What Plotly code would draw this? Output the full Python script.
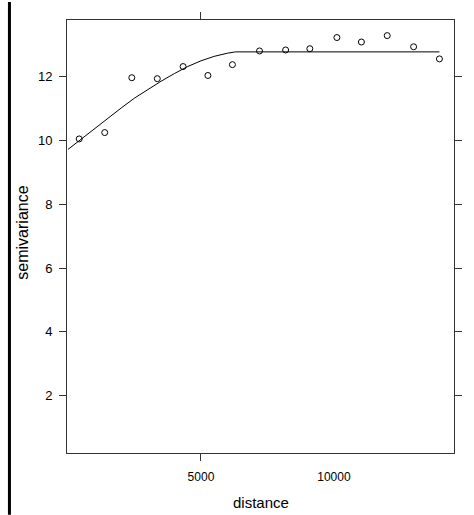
import plotly.graph_objects as go

# empirical semivariogram points
distance = [422, 1381, 2400, 3358, 4328, 5261, 6183, 7201, 8183, 9093,
            10111, 11033, 12003, 12995, 13966]
semivariance = [10.05, 10.25, 11.97, 11.94, 12.32, 12.04, 12.38, 12.81, 12.84,
                12.88, 13.23, 13.09, 13.29, 12.94, 12.56]

# fitted model line
model_dist = [0, 500, 1000, 1500, 2000, 2500, 3000, 3500, 4000, 4500, 5000,
              5500, 6000, 6300, 13966]
model_gamma = [9.72, 10.05, 10.38, 10.70, 11.02, 11.33, 11.60, 11.86, 12.10,
               12.32, 12.50, 12.64, 12.74, 12.78, 12.78]

x_ticks = [5000, 10000]
x_tick_labels = ["5000", "10000"]
x_marked_ticks = [5000]
y_ticks = [2, 4, 6, 8, 10, 12]

FONT = "Liberation Sans, Arial, sans-serif"
AX = "#333333"

fig = go.Figure()
fig.add_trace(go.Scatter(x=model_dist, y=model_gamma, mode="lines",
                         line=dict(color="black", width=1), hoverinfo="skip",
                         showlegend=False))
fig.add_trace(go.Scatter(x=distance, y=semivariance, mode="markers",
                         marker=dict(symbol="circle-open", size=6,
                                     line=dict(color="black", width=1),
                                     color="black"),
                         showlegend=False))
# invisible trace to carry the tick-only x axis
fig.add_trace(go.Scatter(x=[x_marked_ticks[0]], y=[None], xaxis="x2",
                         mode="markers", showlegend=False, hoverinfo="skip"))

fig.update_layout(
    width=474, height=515,
    margin=dict(l=67, r=17, t=18, b=62),
    paper_bgcolor="white", plot_bgcolor="white",
    font=dict(family=FONT, color="black", size=12),
    xaxis=dict(range=[-37, 14514], tickvals=x_ticks, ticktext=x_tick_labels,
               ticks="", showgrid=False, zeroline=False,
               showline=True, linecolor=AX, linewidth=1, mirror=True,
               ticklabelstandoff=13, tickfont=dict(size=12, family=FONT)),
    xaxis2=dict(overlaying="x", matches="x", side="bottom",
                tickvals=x_marked_ticks, showticklabels=False,
                ticks="outside", ticklen=7, tickcolor=AX, tickwidth=1,
                showgrid=False, zeroline=False,
                showline=True, linecolor=AX, linewidth=1, mirror="ticks"),
    yaxis=dict(range=[0.2, 13.78], tickvals=y_ticks,
               ticks="outside", ticklen=7, tickcolor=AX, tickwidth=1,
               showgrid=False, zeroline=False,
               showline=True, linecolor=AX, linewidth=1, mirror="ticks",
               ticklabelstandoff=4, tickfont=dict(size=13, family=FONT)),
    annotations=[
        dict(text="distance", xref="paper", yref="paper", x=0.5, y=-0.115,
             xanchor="center", yanchor="middle", showarrow=False,
             font=dict(size=15, family=FONT)),
        dict(text="semivariance", xref="paper", yref="paper", x=-0.115,
             y=0.51, xanchor="center", yanchor="middle", textangle=-90,
             showarrow=False, font=dict(size=16, family=FONT)),
    ],
    shapes=[
        dict(type="line", xref="paper", yref="paper",
             x0=(9 - 67) / 390, x1=(9 - 67) / 390,
             y0=(453 - 515) / 435, y1=(453 - 0) / 435,
             line=dict(color="black", width=3)),
    ],
)

fig.write_html("out.html")
